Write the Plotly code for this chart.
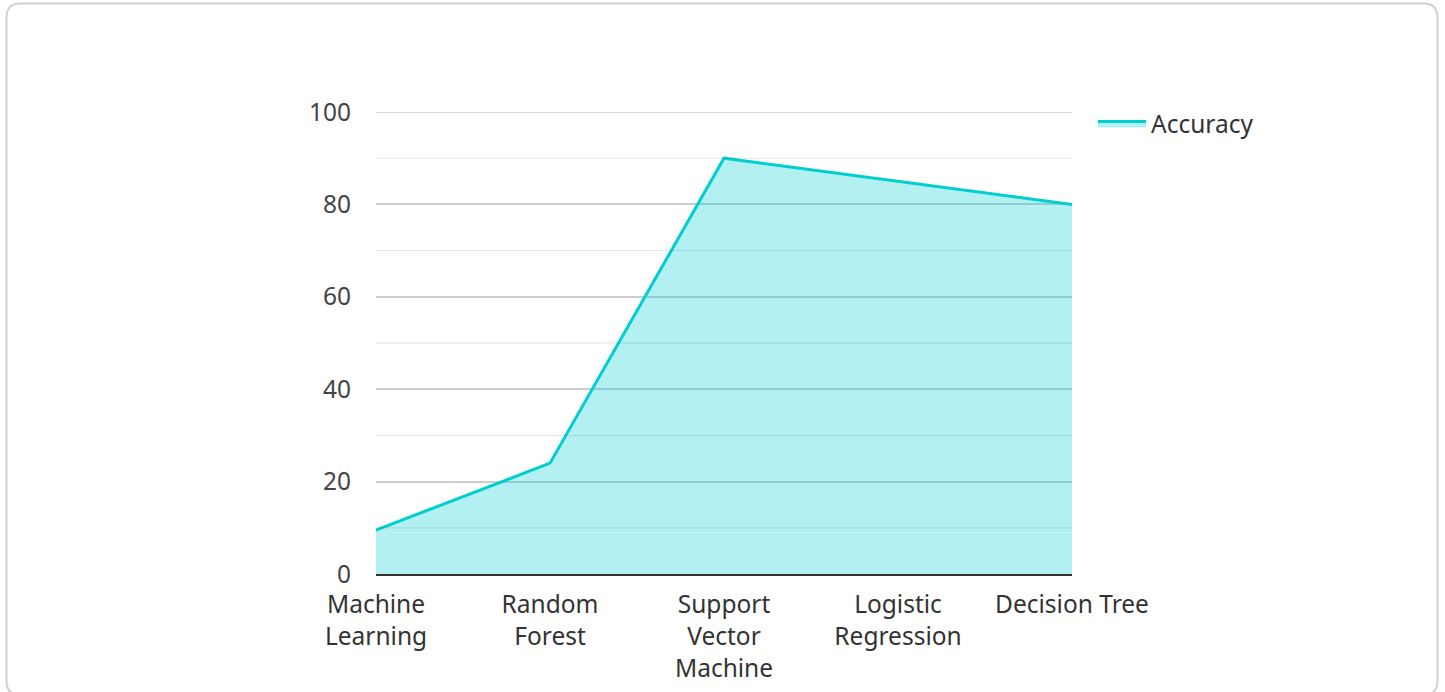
import plotly.graph_objects as go

categories = ["Machine<br>Learning", "Random<br>Forest", "Support<br>Vector<br>Machine", "Logistic<br>Regression", "Decision Tree"]
accuracy = [9.5, 24, 90, 85, 80]
series_name = "Accuracy"
y_ticks = [0, 20, 40, 60, 80, 100]
minor_ticks = [10, 30, 50, 70, 90]

W, H = 1445, 692
L, R, T, B = 376, 1072, 112, 574
FS = 24.5

fig = go.Figure()
fig.add_trace(go.Scatter(
    x=list(range(len(categories))), y=accuracy, name=series_name,
    mode="lines", fill="tozeroy",
    line=dict(color="#00CED1", width=3),
    fillcolor="rgba(0,206,209,0.30)",
))

# minor grid lines
for v in minor_ticks:
    fig.add_shape(type="line", xref="paper", yref="y", x0=0, x1=1, y0=v, y1=v,
                  line=dict(color="rgba(0,0,0,0.10)", width=1), layer="above")
# top grid line
fig.add_shape(type="line", xref="paper", yref="y", x0=0, x1=1, y0=y_ticks[-1], y1=y_ticks[-1],
              line=dict(color="#cccccc", width=1.5), layer="below")

def px(xp):
    return (xp - L) / (R - L)

def py(yp):
    return (B - yp) / (B - T)

# card border
x0, x1, y0, y1, r = 6.5, 1437.5, 3.5, 695, 14
path = (f"M {px(x0+r)},{py(y0)} L {px(x1-r)},{py(y0)} Q {px(x1)},{py(y0)} {px(x1)},{py(y0+r)} "
        f"L {px(x1)},{py(y1-r)} Q {px(x1)},{py(y1)} {px(x1-r)},{py(y1)} "
        f"L {px(x0+r)},{py(y1)} Q {px(x0)},{py(y1)} {px(x0)},{py(y1-r)} "
        f"L {px(x0)},{py(y0+r)} Q {px(x0)},{py(y0)} {px(x0+r)},{py(y0)} Z")
fig.add_shape(type="path", xref="paper", yref="paper", path=path,
              line=dict(color="#d0d0d0", width=2), layer="below")

fig.update_layout(
    width=W, height=H, autosize=False,
    margin=dict(l=L, r=W - R, t=T, b=H - B, pad=0),
    paper_bgcolor="white", plot_bgcolor="white",
    font=dict(family="Noto Sans", size=FS, color="#333333"),
    showlegend=True,
    legend=dict(x=px(1093), y=py(101), xanchor="left", yanchor="top",
                font=dict(size=FS, color="#333333"), bgcolor="rgba(0,0,0,0)",
                itemwidth=48),
    xaxis=dict(
        tickmode="array", tickvals=list(range(len(categories))), ticktext=categories,
        range=[0, len(categories) - 1], showgrid=False, zeroline=False,
        showline=True, linecolor="#333333", linewidth=2, automargin=False,
        ticks="outside", ticklen=8, tickcolor="rgba(0,0,0,0)",
        tickfont=dict(size=FS, color="#333333"),
        fixedrange=True,
    ),
    yaxis=dict(
        range=[0, 100], tickvals=y_ticks, showgrid=True, gridcolor="#cccccc", gridwidth=1.5,
        zeroline=False, showline=False, automargin=False,
        ticks="outside", ticklen=19, tickcolor="rgba(0,0,0,0)",
        tickfont=dict(size=FS, color="#444444"),
        fixedrange=True,
    ),
)

post = ("document.body.style.margin='0';document.body.style.overflow='hidden';")
fig.write_html("out.html", config={"displayModeBar": False}, post_script=post)
